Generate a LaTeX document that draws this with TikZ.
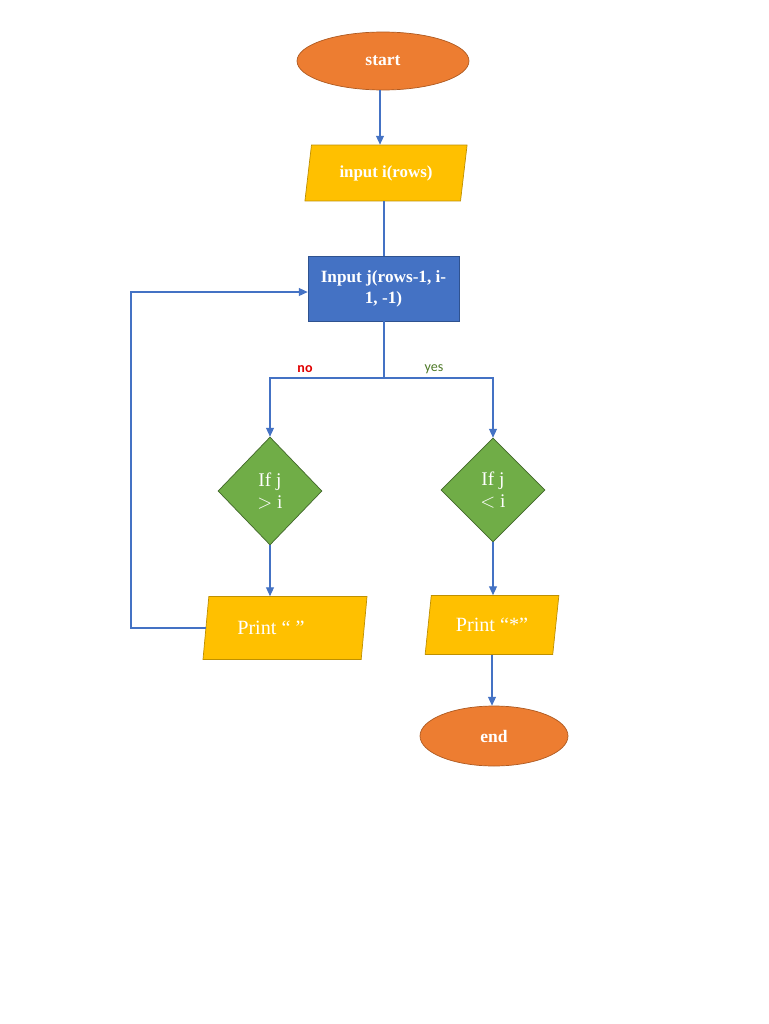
\documentclass[tikz,border=0pt]{standalone}
\usepackage{fontspec}
\setmainfont{Liberation Serif}
\newfontfamily\labelfont{Carlito}
\usetikzlibrary{shapes.geometric,arrows.meta}

\definecolor{startorange}{HTML}{ED7D31}
\definecolor{startedge}{HTML}{AE5A21}
\definecolor{ioyellow}{HTML}{FFC000}
\definecolor{ioedge}{HTML}{BF9000}
\definecolor{procblue}{HTML}{4472C4}
\definecolor{procedge}{HTML}{2F528F}
\definecolor{testgreen}{HTML}{70AD47}
\definecolor{testedge}{HTML}{41672A}
\definecolor{nored}{HTML}{E00000}
\definecolor{yesgreen}{HTML}{4F7A28}

\tikzset{
    terminal/.style={ellipse, draw=startedge, fill=startorange, text=white, font=\fontsize{10}{11}\selectfont\bfseries, inner sep=0pt},
    iobox/.style={trapezium, trapezium left angle=75, trapezium right angle=105, trapezium stretches=true, draw=ioedge, fill=ioyellow, text=white, inner sep=0pt},
    procbox/.style={rectangle, draw=procedge, fill=procblue, text=white, align=center, font=\fontsize{9.8}{12}\selectfont\bfseries, inner sep=0pt},
    testbox/.style={diamond, draw=testedge, fill=testgreen, text=white, align=center, font=\fontsize{11}{13}\selectfont, inner sep=0pt},
    flow/.style={draw=procblue, line width=0.6pt},
    arr/.style={flow, -{Triangle[length=5pt,width=4.5pt]}}
}

\begin{document}
\begin{tikzpicture}[x=0.02cm, y=-0.02cm]
    %Page
    \useasboundingbox[fill=white] (0,0) rectangle (768,1024);

    %Nodes
    \node[terminal, minimum width=3.44cm, minimum height=1.16cm] (start) at (383,61) {start};
    \node[iobox, minimum width=3.26cm, minimum height=1.12cm, font=\fontsize{9.6}{11}\selectfont\bfseries] (inrows) at (386,173) {input i(rows)};
    \node[procbox, minimum width=3.02cm, minimum height=1.3cm] (injcols) at (383.5,288.5) {Input j(rows-1, i-\\1, -1)};
    \node[testbox, minimum width=2.08cm, minimum height=2.16cm] (ifgt) at (270,491) {If j\\ $>$ i};
    \node[testbox, minimum width=2.08cm, minimum height=2.08cm] (iflt) at (493,490) {If j\\ $<$ i};
    \node[iobox, minimum width=3.3cm, minimum height=1.26cm, font=\fontsize{11.5}{13}\selectfont] (prspace) at (285,628) {Print “ ”\hspace*{16pt}};
    \node[iobox, minimum width=2.68cm, minimum height=1.18cm, font=\fontsize{11.5}{13}\selectfont] (prstar) at (492,625) {Print “*”};
    \node[terminal, minimum width=2.96cm, minimum height=1.2cm] (stop) at (494,736) {end};

    %Branch labels
    \node[font=\labelfont\fontsize{8}{9}\selectfont\bfseries, text=nored] (nolbl) at (305,369) {no};
    \node[font=\labelfont\fontsize{8}{9}\selectfont, text=yesgreen] (yeslbl) at (434,369) {yes};

    %Connectors
    \coordinate (split) at (384,378);
    \coordinate (loopback) at (prspace.west -| 131,0);
    \draw[arr] (start.south -| 380,0) -- (inrows.north -| 380,0);
    \draw[flow] (inrows.south -| 384,0) -- (injcols.north -| 384,0);
    \draw[flow] (injcols.south -| split) -- (split);
    \draw[arr] (split) -| (ifgt.north);
    \draw[arr] (split) -| (iflt.north);
    \draw[arr] (ifgt.south) -- (prspace.north -| ifgt.south);
    \draw[arr] (iflt.south) -- (prstar.north -| iflt.south);
    \draw[arr] (prstar.south) -- (stop.north -| prstar.south);
    \draw[arr] (prspace.west) -- (loopback) |- ([yshift=-2pt]injcols.west);
\end{tikzpicture}
\end{document}
